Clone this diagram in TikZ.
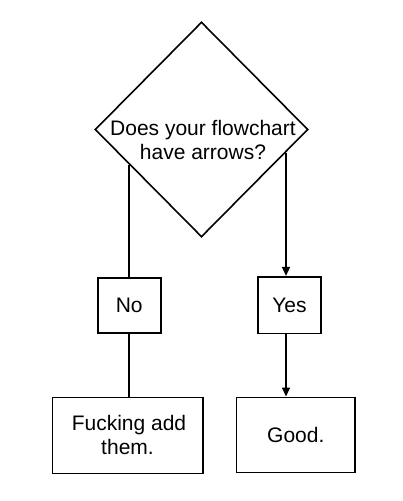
\documentclass[tikz,border=0pt]{standalone}
\usepackage{fontspec}
\setmainfont{Liberation Sans}
\usetikzlibrary{shapes.geometric,arrows.meta}
\tikzset{
  every node/.style={font=\fontsize{21}{24}\selectfont},
  boxnode/.style={draw,line width=1.6pt,inner sep=0pt,align=center},
  dia/.style={draw,diamond,line width=1.6pt,inner sep=0pt,minimum width=213pt,minimum height=215pt},
  conn/.style={line width=1.6pt},
  arr/.style={conn,-{Triangle[length=9pt,width=8pt]}}
}
\begin{document}
\begin{tikzpicture}[x=1pt,y=-1pt]
\useasboundingbox[fill=white] (0,0) rectangle (402,501);
\node[dia] (d) at (201.5,129.5) {};
\node[align=center] (q) at (203,140) {Does your flowchart\\have arrows?};
\node[boxnode,minimum width=63pt,minimum height=55pt] (no) at (129.2,305.3) {No};
\node[boxnode,minimum width=62.7pt,minimum height=56.6pt] (yes) at (289.4,305) {Yes};
\node[boxnode,minimum width=150.4pt,minimum height=76pt] (fa) at (127.5,435.3) {\hspace*{3pt}Fucking add\\them.};
\node[boxnode,minimum width=118.3pt,minimum height=75pt] (good) at (295.8,434.8) {Good.};
\coordinate (lx) at (129,0);
\coordinate (rx) at (286,0);
\draw[conn] (no.north -| lx) -- (lx |- d.206);
\draw[arr] (rx |- d.344) -- (yes.north -| rx);
\draw[conn] (no.south -| lx) -- (fa.north -| lx);
\draw[arr] (yes.south -| rx) -- (good.north -| rx);
\end{tikzpicture}
\end{document}
